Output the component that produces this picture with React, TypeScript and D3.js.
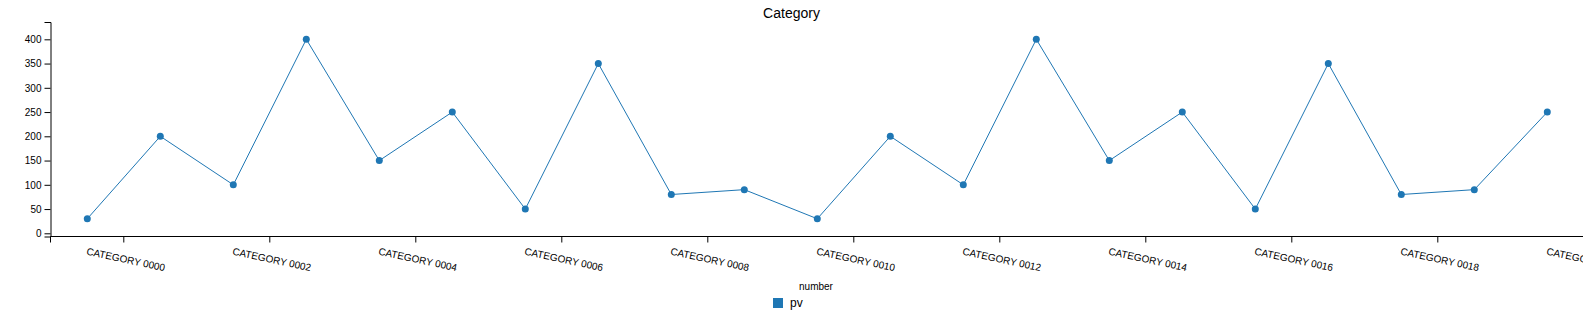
import React, { useEffect, useRef } from "react";
import * as d3 from "d3";

const categories: string[] = [
  "CATEGORY 0000", "CATEGORY 0001", "CATEGORY 0002", "CATEGORY 0003", "CATEGORY 0004",
  "CATEGORY 0005", "CATEGORY 0006", "CATEGORY 0007", "CATEGORY 0008", "CATEGORY 0009",
  "CATEGORY 0010", "CATEGORY 0011", "CATEGORY 0012", "CATEGORY 0013", "CATEGORY 0014",
  "CATEGORY 0015", "CATEGORY 0016", "CATEGORY 0017", "CATEGORY 0018", "CATEGORY 0019",
  "CATEGORY 0020",
];
const pv: number[] = [30, 200, 100, 400, 150, 250, 50, 350, 80, 90, 30, 200, 100, 400, 150, 250, 50, 350, 80, 90, 250];
const yTicks: number[] = [0, 50, 100, 150, 200, 250, 300, 350, 400];

const W = 1583;
const H = 319;
const FONT = "'Liberation Sans', Arial, sans-serif";
const COLOR = "#1f77b4";

export default function App() {
  const yAxisRef = useRef<SVGGElement>(null);

  const x = d3.scaleBand<string>().domain(categories).range([50.8, 50.8 + 73 * categories.length]).padding(0);
  const y = d3.scaleLinear().domain([-6.6, 435.7]).range([236.5, 22]);

  useEffect(() => {
    if (yAxisRef.current) {
      const g = d3.select(yAxisRef.current);
      g.selectAll("*").remove();
      g.call(d3.axisLeft(y).tickValues(yTicks).tickSizeOuter(6) as any);
      g.selectAll("text").attr("font-size", 10).attr("font-family", FONT).attr("fill", "#000");
      g.selectAll("path,line").attr("stroke", "#000");
    }
  });

  const cx = (c: string) => (x(c) as number) + x.bandwidth() / 2;
  const line = d3
    .line<number>()
    .x((_, i) => cx(categories[i]))
    .y((d) => y(d));

  const tickCats = categories.filter((_, i) => i % 2 === 0);
  const axisY = 236.5;

  return (
    <svg width={W} height={H} style={{ position: "absolute", left: 0, top: 0 }}>
      <text x={W / 2} y={18} textAnchor="middle" fontSize={14} fontFamily={FONT} fill="#000">
        Category
      </text>
      <g ref={yAxisRef} transform="translate(50.5,0)" />
      <g>
        <path d={`M50.5,${axisY + 6}V${axisY}H${W + 40}`} fill="none" stroke="#000" />
        {tickCats.map((c) => {
          const tx = (x(c) as number) + x.bandwidth();
          return (
            <g key={c} transform={`translate(${tx},0)`}>
              <line x1={0} x2={0} y1={axisY} y2={axisY + 6} stroke="#000" />
              <text
                transform={`translate(2,${axisY + 23}) rotate(12)`}
                textAnchor="middle"
                dy="0.35em"
                fontSize={10}
                fontFamily={FONT}
                fill="#000"
              >
                {c}
              </text>
            </g>
          );
        })}
      </g>
      <path d={line(pv) as string} fill="none" stroke={COLOR} strokeWidth={1} />
      {pv.map((v, i) => (
        <circle key={i} cx={cx(categories[i])} cy={y(v)} r={3.5} fill={COLOR} />
      ))}
      <text x={816} y={290} textAnchor="middle" fontSize={10} fontFamily={FONT} fill="#000">
        number
      </text>
      <rect x={773} y={298} width={10} height={10} fill={COLOR} />
      <text x={790} y={307} fontSize={12} fontFamily={FONT} fill="#000">
        pv
      </text>
    </svg>
  );
}
